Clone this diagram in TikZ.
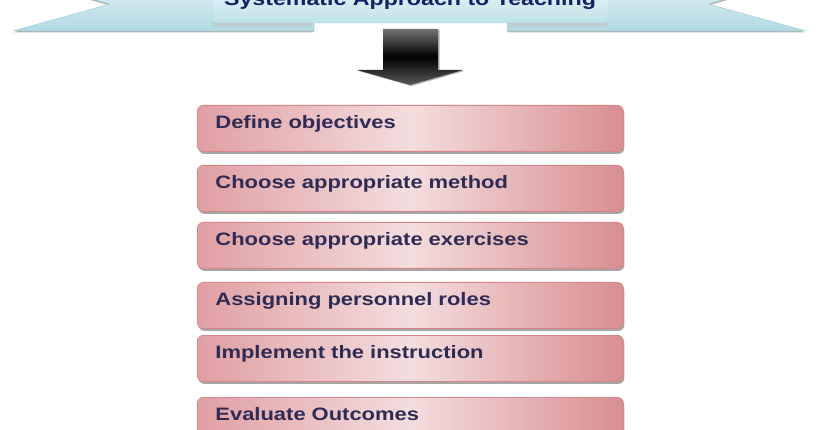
\documentclass[tikz,border=0pt]{standalone}
\usepackage{fontspec}
\usepackage{tikz}
\usetikzlibrary{shadows}
\setmainfont{Liberation Sans}
\newfontfamily\stepfont[FakeStretch=1.22]{Liberation Sans Bold}
\definecolor{bannertop}{HTML}{DCEFF4}
\definecolor{bannerbot}{HTML}{B0D9E3}
\definecolor{banneredge}{HTML}{93C6D3}
\definecolor{foldgray}{HTML}{C9C2C3}
\definecolor{titleblue}{HTML}{0D2466}
\definecolor{stepleft}{HTML}{E09FA2}
\definecolor{stepmid}{HTML}{F4DDDE}
\definecolor{stepright}{HTML}{D88E90}
\definecolor{stepedge}{HTML}{D7878A}
\definecolor{steptext}{HTML}{2E2B56}
\def\stepnode{\node[anchor=north west,draw=stepedge,line width=0.8pt,rounded corners=6pt,
  left color=stepleft,right color=stepright,middle color=stepmid,
  drop shadow={shadow xshift=1pt,shadow yshift=-2.5pt,fill=black,opacity=0.35},
  inner xsep=18pt,inner ysep=0pt,text width=390pt,text height=23pt,text depth=23pt,
  align=left,font=\stepfont\fontsize{18}{20}\selectfont,text=steptext]}

\begin{document}
\begin{tikzpicture}[x=1pt,y=-1pt]
\useasboundingbox (0,0) rectangle (819,430);
\clip (0,0) rectangle (819,430);
% banner
\draw[draw=banneredge,top color=bannertop,bottom color=bannerbot,rounded corners=2pt,
  drop shadow={shadow xshift=0pt,shadow yshift=-1.5pt,fill=black,opacity=0.3}]
  (60,-10) -- (110,4) -- (13,31) -- (314,31) -- (314,-12) -- cycle;
\draw[draw=banneredge,top color=bannertop,bottom color=bannerbot,rounded corners=2pt,
  drop shadow={shadow xshift=0pt,shadow yshift=-1.5pt,fill=black,opacity=0.3}]
  (758,-10) -- (708,4) -- (806,31) -- (507,31) -- (507,-12) -- cycle;
\shade[top color=foldgray,bottom color=bannerbot] (213,22) rectangle (312,28);
\shade[top color=foldgray,bottom color=bannerbot] (508,22) rectangle (607,28);
\draw[draw=banneredge!80,top color=bannertop!70!white,bottom color=bannerbot!80!white,rounded corners=3pt]
  (212,-12) rectangle (608,23);
\node[font=\stepfont\fontsize{19}{20}\selectfont,text=titleblue,anchor=base] (title) at (410,6)
  {Systematic Approach to Teaching};
% arrow
\path[top color=black!55,bottom color=black!65,middle color=black,
  drop shadow={shadow xshift=1.5pt,shadow yshift=-1pt,fill=black,opacity=0.3}]
  (383,29) -- (438,29) -- (438,70) -- (463,70) -- (410,85) -- (357,70) -- (383,70) -- cycle;
% steps
\stepnode (define) at (197,105) {Define objectives};
\stepnode (method) at (197,165) {Choose appropriate method};
\stepnode (exercise) at (197,222) {Choose appropriate exercises};
\stepnode (roles) at (197,282) {Assigning personnel roles};
\stepnode (implement) at (197,335) {Implement the instruction};
\stepnode (evaluate) at (197,397) {Evaluate Outcomes};
\end{tikzpicture}
\end{document}
